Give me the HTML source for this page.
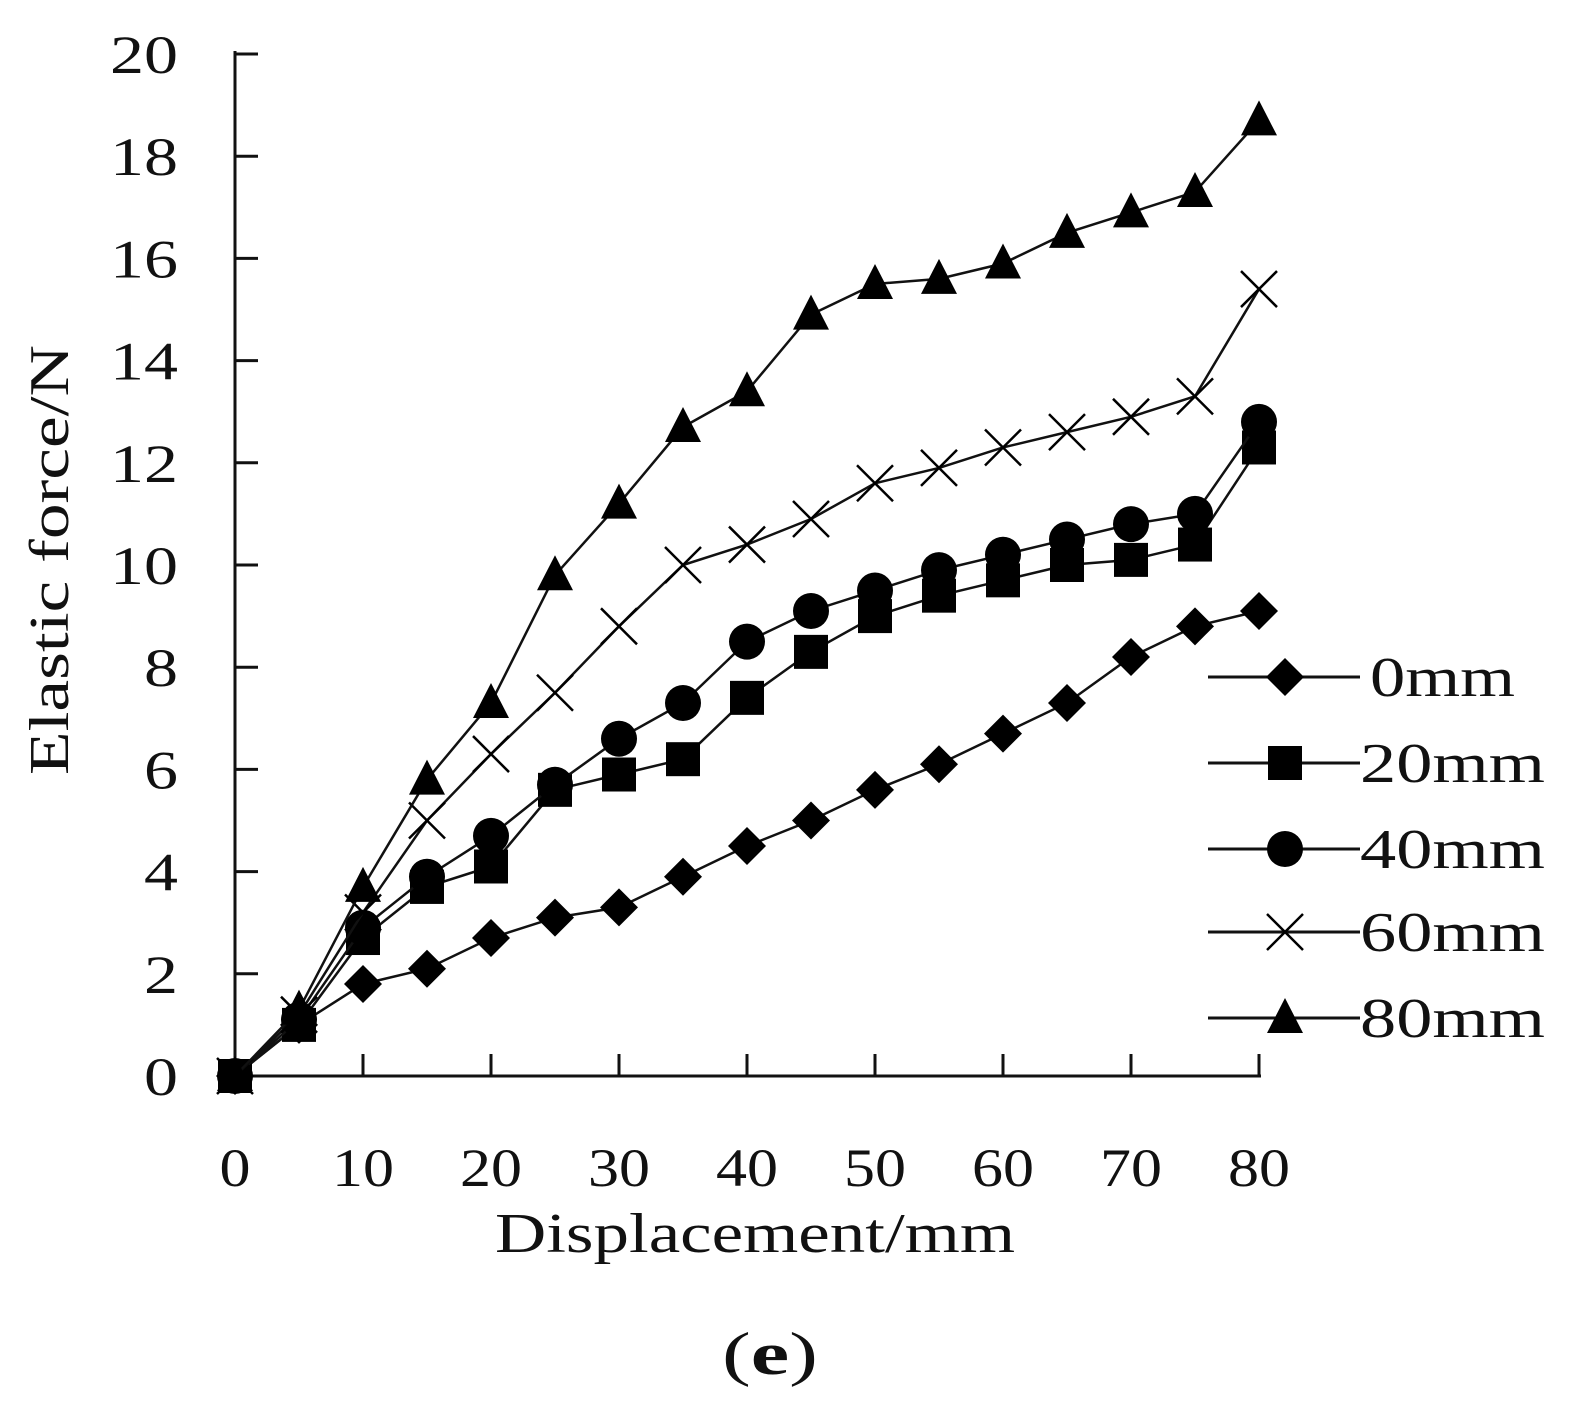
<!DOCTYPE html>
<html><head><meta charset="utf-8"><style>
html,body{margin:0;padding:0;background:#fff;}
svg{display:block;}
text{font-family:"Liberation Serif",serif;fill:#111;}
</style></head><body>
<svg id="s" width="1571" height="1414" viewBox="0 0 1571 1414" xmlns="http://www.w3.org/2000/svg">
<g stroke="#111" stroke-width="3" fill="none">
<line x1="235" y1="51" x2="235" y2="1076"/>
<line x1="235" y1="1076" x2="1261" y2="1076"/>
</g>
<g id="ticks" stroke="#111" stroke-width="3"></g>
<g id="lbl" font-size="54"></g>
<text x="755" y="1252" font-size="56" text-anchor="middle" textLength="520" lengthAdjust="spacingAndGlyphs">Displacement/mm</text>
<text transform="translate(68,560) rotate(-90)" font-size="56" text-anchor="middle" textLength="430" lengthAdjust="spacingAndGlyphs">Elastic force/N</text>
<text x="770" y="1374" font-size="60" text-anchor="middle" textLength="96" lengthAdjust="spacingAndGlyphs">(<tspan font-weight="bold">e</tspan>)</text>
<g id="series"></g>
<g id="legend"></g>
</svg>
<script>
const NS="http://www.w3.org/2000/svg";
const X=v=>235+v*12.8, Y=v=>1076-v*51.1;
function el(p,t,a,txt){const e=document.createElementNS(NS,t);for(const k in a)e.setAttribute(k,a[k]);if(txt!==undefined)e.textContent=txt;p.appendChild(e);return e;}
const tk=document.getElementById('ticks'),lb=document.getElementById('lbl');
for(let i=0;i<=10;i++){const y=Y(i*2);if(i>0)el(tk,'line',{x1:235,y1:y,x2:258,y2:y});const s=String(i*2);
 el(lb,'text',{x:178,y:y+19,'text-anchor':'end',textLength:s.length*34,lengthAdjust:'spacingAndGlyphs'},s);}
for(let i=0;i<=8;i++){const x=X(i*10);if(i>0)el(tk,'line',{x1:x,y1:1076,x2:x,y2:1054});const s=String(i*10);
 el(lb,'text',{x:x,y:1186,'text-anchor':'middle',textLength:s.length*31,lengthAdjust:'spacingAndGlyphs'},s);}
const data={
d:[0,1.0,1.8,2.1,2.7,3.1,3.3,3.9,4.5,5.0,5.6,6.1,6.7,7.3,8.2,8.8,9.1],
s:[0,1.0,2.7,3.7,4.1,5.6,5.9,6.2,7.4,8.3,9.0,9.4,9.7,10.0,10.1,10.4,12.3],
c:[0,1.1,2.9,3.9,4.7,5.7,6.6,7.3,8.5,9.1,9.5,9.9,10.2,10.5,10.8,11.0,12.8],
x:[0,1.2,3.2,5.0,6.3,7.5,8.8,10.0,10.4,10.9,11.6,11.9,12.3,12.6,12.9,13.3,15.4],
t:[0,1.3,3.7,5.8,7.3,9.8,11.2,12.7,13.4,14.9,15.5,15.6,15.9,16.5,16.9,17.3,18.7]};
function marker(g,k,x,y){
 if(k=='d')el(g,'polygon',{points:`${x},${y-19} ${x+19},${y} ${x},${y+19} ${x-19},${y}`,fill:'#000'});
 else if(k=='s')el(g,'rect',{x:x-17,y:y-17,width:34,height:34,fill:'#000'});
 else if(k=='c')el(g,'circle',{cx:x,cy:y,r:18,fill:'#000'});
 else if(k=='x'){el(g,'line',{x1:x-18,y1:y-18,x2:x+18,y2:y+18,stroke:'#000','stroke-width':2.5});el(g,'line',{x1:x-18,y1:y+18,x2:x+18,y2:y-18,stroke:'#000','stroke-width':2.5});}
 else el(g,'polygon',{points:`${x},${y-20} ${x+18},${y+15} ${x-18},${y+15}`,fill:'#000'});
}
const sg=document.getElementById('series');
for(const k in data){const pts=data[k].map((v,i)=>X(i*5)+','+Y(v)).join(' ');
 el(sg,'polyline',{points:pts,fill:'none',stroke:'#111','stroke-width':2.5});
 data[k].forEach((v,i)=>marker(sg,k,X(i*5),Y(v)));}
const lg=document.getElementById('legend');
const names=['0mm','20mm','40mm','60mm','80mm'],keys=['d','s','c','x','t'],ys=[677,763,849,932,1018],wl=[145,185,185,185,185],xl=[1370,1360,1360,1360,1360];
keys.forEach((k,i)=>{el(lg,'line',{x1:1208,y1:ys[i],x2:1360,y2:ys[i],stroke:'#111','stroke-width':3});marker(lg,k,1285,ys[i]);
 el(lg,'text',{x:xl[i],y:ys[i]+19,'font-size':56,textLength:wl[i],lengthAdjust:'spacingAndGlyphs'},names[i]);});
</script>
</body></html>
